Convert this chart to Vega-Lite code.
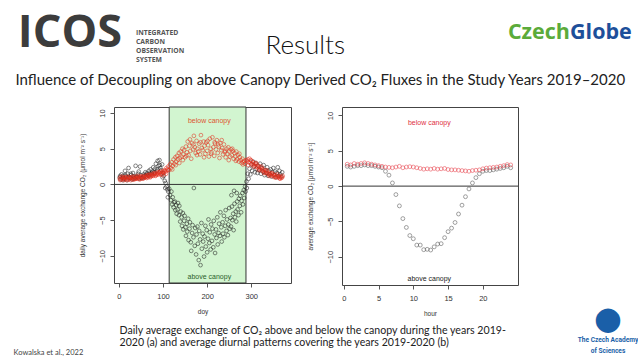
{
"$schema": "https://vega.github.io/schema/vega-lite/v6.json",
"background": "white",
"padding": {"left": 13, "top": 2, "right": 0, "bottom": 0},
"config": {
  "view": {"stroke": "#444", "strokeWidth": 1},
  "font": "Liberation Sans",
  "axis": {"grid": false, "domain": false, "ticks": true, "tickSize": 4, "tickColor": "#555", "labelColor": "#333", "labelFontSize": 7.5, "labelFont": "Liberation Sans", "titleFont": "Liberation Sans", "titleFontWeight": "normal", "titleColor": "#333", "titleFontSize": 6.5},
  "axisX": {"labelPadding": 5, "titlePadding": 9, "labelFlush": false},
  "axisY": {"labelAngle": -90, "labelAlign": "center", "labelBaseline": "bottom", "labelPadding": 4, "titlePadding": 13},
  "title": {"font": "Lato", "fontWeight": "normal", "color": "#222"}
},
"datasets": {
  "leftAbove": [
    {"d":2,"v":1.0},{"d":4,"v":0.7},{"d":6,"v":1.4},{"d":8,"v":0.9},{"d":10,"v":1.2},{"d":12,"v":0.8},{"d":14,"v":1.9},{"d":16,"v":1.1},{"d":18,"v":0.6},{"d":20,"v":1.5},{"d":22,"v":2.3},{"d":24,"v":1.0},{"d":26,"v":0.9},{"d":28,"v":1.3},{"d":30,"v":0.7},{"d":32,"v":1.6},{"d":34,"v":1.1},{"d":36,"v":0.9},{"d":38,"v":2.6},{"d":40,"v":1.2},{"d":42,"v":1.0},{"d":44,"v":1.5},{"d":46,"v":0.8},{"d":48,"v":2.5},{"d":50,"v":1.3},{"d":52,"v":1.0},{"d":54,"v":0.9},{"d":56,"v":1.4},{"d":58,"v":1.2},{"d":60,"v":1.7},{"d":62,"v":1.1},{"d":64,"v":1.6},{"d":66,"v":1.3},{"d":68,"v":1.9},{"d":70,"v":1.5},{"d":72,"v":2.1},{"d":74,"v":1.4},{"d":76,"v":1.8},{"d":78,"v":2.4},{"d":80,"v":1.7},{"d":82,"v":2.2},{"d":84,"v":2.9},{"d":86,"v":1.9},{"d":88,"v":3.3},{"d":90,"v":2.6},{"d":92,"v":3.4},{"d":94,"v":2.3},{"d":96,"v":2.0},{"d":98,"v":2.8},{"d":100,"v":1.6},{"d":102,"v":1.2},{"d":104,"v":0.5},{"d":106,"v":0.2},{"d":108,"v":-0.3},{"d":110,"v":-0.7},{"d":112,"v":-1.0},
    {"d":3,"v":1.2},{"d":9,"v":0.6},{"d":15,"v":1.3},{"d":21,"v":0.9},{"d":27,"v":1.5},{"d":33,"v":0.8},{"d":39,"v":1.0},{"d":45,"v":1.8},{"d":51,"v":0.9},{"d":57,"v":1.1},{"d":63,"v":1.4},{"d":69,"v":1.2},{"d":75,"v":1.6},{"d":81,"v":1.5},{"d":87,"v":2.1},{"d":93,"v":2.7},{"d":99,"v":1.0},{"d":105,"v":-0.5},{"d":111,"v":-1.8},
    {"d":114,"v":-0.6},{"d":116,"v":-1.5},{"d":118,"v":-2.2},{"d":119,"v":-1.0},{"d":121,"v":-2.8},{"d":122,"v":-1.8},{"d":124,"v":-3.2},{"d":125,"v":-2.5},{"d":127,"v":-2.4},{"d":128,"v":-3.6},{"d":130,"v":-2.9},{"d":131,"v":-4.1},{"d":133,"v":-3.5},{"d":134,"v":-2.6},{"d":136,"v":-4.3},{"d":137,"v":-3.0},{"d":139,"v":-5.2},{"d":140,"v":-3.8},{"d":142,"v":-4.6},{"d":143,"v":-5.8},{"d":145,"v":-4.0},{"d":146,"v":-6.3},{"d":148,"v":-5.1},{"d":149,"v":-4.4},{"d":151,"v":-6.0},{"d":152,"v":-7.2},{"d":154,"v":-5.5},{"d":155,"v":-6.6},{"d":157,"v":-4.8},{"d":158,"v":-7.8},{"d":160,"v":-6.2},{"d":161,"v":-5.3},{"d":163,"v":-8.1},{"d":164,"v":-9.3},{"d":166,"v":-6.8},{"d":167,"v":-5.7},{"d":169,"v":-7.4},{"d":170,"v":-0.5},{"d":172,"v":-8.6},{"d":173,"v":-6.1},{"d":175,"v":-9.8},{"d":176,"v":-7.0},{"d":178,"v":-5.9},{"d":179,"v":-8.3},{"d":181,"v":-10.6},{"d":182,"v":-6.5},{"d":184,"v":-7.7},{"d":185,"v":-11.3},{"d":187,"v":-5.4},{"d":188,"v":-9.0},{"d":190,"v":-6.9},{"d":191,"v":-8.0},{"d":193,"v":-10.1},{"d":194,"v":-7.3},{"d":196,"v":-5.8},{"d":197,"v":-8.7},{"d":199,"v":-6.4},{"d":200,"v":-9.5},{"d":202,"v":-7.6},{"d":203,"v":-4.9},{"d":205,"v":-8.2},{"d":206,"v":-6.7},{"d":208,"v":-9.1},{"d":209,"v":-5.6},{"d":211,"v":-7.9},{"d":212,"v":-6.2},{"d":214,"v":-8.8},{"d":215,"v":-5.1},{"d":217,"v":-7.0},{"d":218,"v":-9.6},{"d":220,"v":-6.3},{"d":221,"v":-7.5},{"d":223,"v":-4.6},{"d":224,"v":-8.4},{"d":226,"v":-6.8},{"d":227,"v":-5.5},{"d":229,"v":-7.2},{"d":230,"v":-3.9},{"d":232,"v":-6.0},{"d":233,"v":-8.0},{"d":235,"v":-5.3},{"d":236,"v":-6.9},{"d":238,"v":-4.4},{"d":239,"v":-7.4},{"d":241,"v":-5.8},{"d":242,"v":-3.6},{"d":244,"v":-6.5},{"d":245,"v":-4.9},{"d":247,"v":-7.1},{"d":248,"v":-5.6},{"d":250,"v":-3.3},{"d":251,"v":-6.2},{"d":253,"v":-4.7},{"d":254,"v":-5.9},{"d":255,"v":-1.5},{"d":256,"v":-3.1},{"d":257,"v":-5.0},{"d":259,"v":-4.1},{"d":260,"v":-6.4},{"d":261,"v":-0.9},{"d":262,"v":-2.7},{"d":263,"v":-4.6},{"d":265,"v":-3.8},{"d":266,"v":-5.2},{"d":267,"v":-1.2},{"d":268,"v":-2.4},{"d":269,"v":-3.5},{"d":271,"v":-4.3},{"d":272,"v":-2.0},{"d":274,"v":-3.0},{"d":275,"v":-1.6},{"d":277,"v":-3.9},{"d":278,"v":-2.3},{"d":280,"v":-1.2},{"d":281,"v":-2.8},{"d":283,"v":-0.8},{"d":284,"v":-1.9},{"d":286,"v":-0.3},{"d":287,"v":-1.0},{"d":289,"v":0.4},{"d":290,"v":-0.5},
    {"d":292,"v":1.5},{"d":294,"v":0.8},{"d":296,"v":2.2},{"d":298,"v":1.4},{"d":300,"v":2.8},{"d":302,"v":1.9},{"d":304,"v":3.2},{"d":306,"v":2.5},{"d":308,"v":1.7},{"d":310,"v":3.0},{"d":312,"v":2.2},{"d":314,"v":1.6},{"d":316,"v":2.6},{"d":318,"v":2.0},{"d":320,"v":2.9},{"d":322,"v":1.5},{"d":324,"v":2.3},{"d":326,"v":1.8},{"d":328,"v":2.7},{"d":330,"v":1.3},{"d":332,"v":2.0},{"d":334,"v":1.6},{"d":336,"v":2.4},{"d":338,"v":1.2},{"d":340,"v":1.9},{"d":342,"v":1.4},{"d":344,"v":2.1},{"d":346,"v":1.1},{"d":348,"v":1.7},{"d":350,"v":2.3},{"d":352,"v":1.3},{"d":354,"v":1.8},{"d":356,"v":1.0},{"d":358,"v":1.6},{"d":360,"v":2.4},{"d":362,"v":1.2},{"d":364,"v":1.9},{"d":366,"v":1.4},{"d":368,"v":1.1},{"d":370,"v":1.7}
  ],
  "leftBelow": [
    {"d":2,"v":0.8},{"d":4,"v":1.0},{"d":6,"v":0.7},{"d":8,"v":0.9},{"d":10,"v":0.8},{"d":12,"v":1.0},{"d":14,"v":0.7},{"d":16,"v":0.9},{"d":18,"v":0.8},{"d":20,"v":1.1},{"d":22,"v":0.7},{"d":24,"v":0.9},{"d":26,"v":0.8},{"d":28,"v":1.0},{"d":30,"v":0.9},{"d":32,"v":0.7},{"d":34,"v":1.0},{"d":36,"v":0.8},{"d":38,"v":1.1},{"d":40,"v":0.9},{"d":42,"v":0.8},{"d":44,"v":1.0},{"d":46,"v":0.9},{"d":48,"v":1.1},{"d":50,"v":0.8},{"d":52,"v":1.0},{"d":54,"v":1.1},{"d":56,"v":0.9},{"d":58,"v":1.2},{"d":60,"v":1.0},{"d":62,"v":1.1},{"d":64,"v":1.3},{"d":66,"v":1.0},{"d":68,"v":1.2},{"d":70,"v":1.4},{"d":72,"v":1.1},{"d":74,"v":1.3},{"d":76,"v":1.5},{"d":78,"v":1.2},{"d":80,"v":1.4},{"d":82,"v":1.6},{"d":84,"v":1.3},{"d":86,"v":1.5},{"d":88,"v":1.7},{"d":90,"v":1.4},{"d":92,"v":1.6},{"d":94,"v":1.8},{"d":96,"v":1.5},{"d":98,"v":1.7},{"d":100,"v":1.9},{"d":102,"v":1.6},{"d":104,"v":2.0},{"d":106,"v":1.8},{"d":108,"v":2.3},{"d":110,"v":2.1},{"d":112,"v":2.5},
    {"d":3,"v":0.6},{"d":7,"v":1.1},{"d":11,"v":0.6},{"d":15,"v":1.0},{"d":19,"v":0.6},{"d":23,"v":1.0},{"d":27,"v":0.6},{"d":31,"v":1.1},{"d":35,"v":0.7},{"d":39,"v":0.8},{"d":43,"v":1.2},{"d":47,"v":0.7},{"d":51,"v":1.1},{"d":55,"v":0.8},{"d":59,"v":1.0},{"d":63,"v":0.9},{"d":67,"v":1.3},{"d":71,"v":1.0},{"d":75,"v":1.2},{"d":79,"v":1.5},{"d":83,"v":1.2},{"d":87,"v":1.4},{"d":91,"v":1.7},{"d":95,"v":1.4},{"d":99,"v":1.3},{"d":103,"v":1.8},{"d":107,"v":1.5},{"d":111,"v":2.0},
    {"d":114,"v":2.0},{"d":116,"v":2.8},{"d":118,"v":2.3},{"d":120,"v":3.1},{"d":122,"v":2.6},{"d":124,"v":3.5},{"d":126,"v":2.9},{"d":128,"v":3.8},{"d":130,"v":3.2},{"d":132,"v":4.0},{"d":134,"v":3.5},{"d":136,"v":4.4},{"d":138,"v":3.7},{"d":140,"v":4.6},{"d":142,"v":3.9},{"d":144,"v":5.0},{"d":146,"v":4.2},{"d":148,"v":4.8},{"d":150,"v":3.8},{"d":152,"v":5.3},{"d":154,"v":4.5},{"d":156,"v":6.0},{"d":158,"v":4.1},{"d":160,"v":5.4},{"d":162,"v":4.7},{"d":164,"v":3.6},{"d":166,"v":5.8},{"d":168,"v":4.9},{"d":170,"v":6.8},{"d":172,"v":5.2},{"d":174,"v":4.4},{"d":176,"v":6.1},{"d":178,"v":5.0},{"d":180,"v":4.6},{"d":182,"v":5.7},{"d":184,"v":4.2},{"d":186,"v":6.9},{"d":188,"v":5.1},{"d":190,"v":4.8},{"d":192,"v":6.0},{"d":194,"v":5.4},{"d":196,"v":4.3},{"d":198,"v":5.9},{"d":200,"v":4.7},{"d":202,"v":5.5},{"d":204,"v":3.9},{"d":206,"v":6.4},{"d":208,"v":5.0},{"d":210,"v":4.5},{"d":212,"v":6.6},{"d":214,"v":5.2},{"d":216,"v":4.0},{"d":218,"v":5.7},{"d":220,"v":4.9},{"d":222,"v":6.2},{"d":224,"v":4.4},{"d":226,"v":5.3},{"d":228,"v":3.7},{"d":230,"v":5.8},{"d":232,"v":4.8},{"d":234,"v":5.1},{"d":236,"v":4.2},{"d":238,"v":5.6},{"d":240,"v":4.5},{"d":242,"v":3.8},{"d":244,"v":5.0},{"d":246,"v":4.3},{"d":248,"v":5.2},{"d":250,"v":4.6},{"d":252,"v":3.9},{"d":254,"v":4.9},{"d":256,"v":4.1},{"d":258,"v":4.7},{"d":260,"v":3.6},{"d":262,"v":4.4},{"d":264,"v":3.9},{"d":266,"v":4.6},{"d":268,"v":3.5},{"d":270,"v":4.1},{"d":272,"v":3.2},{"d":274,"v":3.8},{"d":276,"v":3.4},{"d":278,"v":3.0},{"d":280,"v":3.6},{"d":282,"v":3.1},{"d":284,"v":3.3},{"d":286,"v":2.9},{"d":288,"v":3.4},
    {"d":121,"v":2.1},{"d":129,"v":2.7},{"d":137,"v":3.0},{"d":145,"v":3.4},{"d":153,"v":4.0},{"d":161,"v":6.3},{"d":169,"v":5.6},{"d":177,"v":4.1},{"d":185,"v":5.9},{"d":193,"v":3.8},{"d":201,"v":6.1},{"d":209,"v":4.3},{"d":217,"v":5.9},{"d":225,"v":5.6},{"d":233,"v":6.2},{"d":241,"v":4.7},{"d":249,"v":3.4},{"d":257,"v":5.0},{"d":265,"v":3.3},{"d":273,"v":4.3},{"d":281,"v":2.8},
    {"d":290,"v":3.3},{"d":292,"v":3.5},{"d":294,"v":3.1},{"d":296,"v":3.6},{"d":298,"v":3.0},{"d":300,"v":3.3},{"d":302,"v":2.8},{"d":304,"v":3.1},{"d":306,"v":2.7},{"d":308,"v":2.9},{"d":310,"v":2.5},{"d":312,"v":2.8},{"d":314,"v":2.4},{"d":316,"v":2.6},{"d":318,"v":2.2},{"d":320,"v":2.4},{"d":322,"v":2.0},{"d":324,"v":2.2},{"d":326,"v":1.9},{"d":328,"v":2.1},{"d":330,"v":1.7},{"d":332,"v":1.9},{"d":334,"v":1.6},{"d":336,"v":1.8},{"d":338,"v":1.5},{"d":340,"v":1.4},{"d":342,"v":1.6},{"d":344,"v":1.3},{"d":346,"v":1.5},{"d":348,"v":1.2},{"d":350,"v":1.4},{"d":352,"v":1.1},{"d":354,"v":1.3},{"d":356,"v":1.0},{"d":358,"v":1.2},{"d":360,"v":1.0},{"d":362,"v":1.1},{"d":364,"v":0.9},{"d":366,"v":1.1},{"d":368,"v":0.9},{"d":370,"v":1.0},
    {"d":293,"v":2.7},{"d":299,"v":3.4},{"d":305,"v":2.5},{"d":311,"v":3.0},{"d":317,"v":2.0},{"d":323,"v":2.5},{"d":329,"v":1.6},{"d":335,"v":2.0},{"d":341,"v":1.2},{"d":347,"v":1.6},{"d":353,"v":1.0},{"d":359,"v":1.4},{"d":365,"v":0.8},{"d":371,"v":1.2}
  ],
  "rightAbove": [
    {"h":0.5,"v":2.8},{"h":1,"v":2.7},{"h":1.5,"v":2.8},{"h":2,"v":2.9},{"h":2.5,"v":2.9},{"h":3,"v":3.0},{"h":3.5,"v":2.9},{"h":4,"v":2.9},{"h":4.5,"v":2.8},{"h":5,"v":2.7},{"h":5.5,"v":2.6},{"h":6,"v":2.1},{"h":6.5,"v":1.55},{"h":7,"v":0.45},{"h":7.5,"v":-1.2},{"h":8,"v":-2.8},{"h":8.5,"v":-4.6},{"h":9,"v":-5.85},{"h":9.5,"v":-7.0},{"h":10,"v":-7.45},{"h":10.5,"v":-8.35},{"h":11,"v":-8.35},{"h":11.5,"v":-9.0},{"h":12,"v":-8.95},{"h":12.5,"v":-9.05},{"h":13,"v":-8.6},{"h":13.5,"v":-8.2},{"h":14,"v":-8.15},{"h":14.5,"v":-7.3},{"h":15,"v":-6.45},{"h":15.5,"v":-5.95},{"h":16,"v":-5.15},{"h":16.5,"v":-3.95},{"h":17,"v":-2.7},{"h":17.5,"v":-1.5},{"h":18,"v":-0.4},{"h":18.5,"v":0.45},{"h":19,"v":1.2},{"h":19.5,"v":1.75},{"h":20,"v":2.1},{"h":20.5,"v":2.2},{"h":21,"v":2.2},{"h":21.5,"v":2.3},{"h":22,"v":2.4},{"h":22.5,"v":2.5},{"h":23,"v":2.6},{"h":23.5,"v":2.8},{"h":24,"v":2.6}
  ],
  "rightBelow": [
    {"h":0.5,"v":3.1},{"h":1,"v":3.0},{"h":1.5,"v":3.2},{"h":2,"v":3.1},{"h":2.5,"v":3.2},{"h":3,"v":3.3},{"h":3.5,"v":3.2},{"h":4,"v":3.1},{"h":4.5,"v":3.0},{"h":5,"v":2.9},{"h":5.5,"v":2.8},{"h":6,"v":2.7},{"h":6.5,"v":2.65},{"h":7,"v":2.6},{"h":7.5,"v":2.7},{"h":8,"v":2.8},{"h":8.5,"v":2.6},{"h":9,"v":2.7},{"h":9.5,"v":2.75},{"h":10,"v":2.7},{"h":10.5,"v":2.6},{"h":11,"v":2.5},{"h":11.5,"v":2.4},{"h":12,"v":2.45},{"h":12.5,"v":2.4},{"h":13,"v":2.5},{"h":13.5,"v":2.4},{"h":14,"v":2.45},{"h":14.5,"v":2.5},{"h":15,"v":2.35},{"h":15.5,"v":2.3},{"h":16,"v":2.3},{"h":16.5,"v":2.25},{"h":17,"v":2.2},{"h":17.5,"v":2.15},{"h":18,"v":2.1},{"h":18.5,"v":2.2},{"h":19,"v":2.25},{"h":19.5,"v":2.3},{"h":20,"v":2.45},{"h":20.5,"v":2.55},{"h":21,"v":2.6},{"h":21.5,"v":2.65},{"h":22,"v":2.7},{"h":22.5,"v":2.8},{"h":23,"v":2.9},{"h":23.5,"v":3.05},{"h":24,"v":3.0}
  ]
},
"spacing": 9,
"vconcat": [
  {
    "spacing": 0,
    "hconcat": [
      {"width": 44, "height": 62, "view": {"stroke": null},
       "title": {"text": "ICOS", "orient": "left", "angle": 0, "align": "left", "baseline": "middle", "anchor": "middle", "frame": "group", "offset": -8, "font": "Open Sans", "fontWeight": "bold", "fontSize": 45, "color": "#3c3c3c"},
       "data": {"values": [{"t": "INTEGRATED\nCARBON\nOBSERVATION\nSYSTEM"}]}, "mark": {"type": "text", "font": "Open Sans", "fontWeight": "bold", "fontSize": 6.8, "color": "#555", "align": "left", "lineBreak": "\n", "lineHeight": 9}, "encoding": {"text": {"field": "t"}}},
      {"width": 320, "height": 62, "view": {"stroke": null}, "data": {"values": [{"t": "Results"}]}, "mark": {"type": "text", "font": "Lato", "fontWeight": 300, "fontSize": 26, "color": "#111", "align": "right", "baseline": "top"}, "encoding": {"text": {"field": "t"}}},
      {"width": 130, "height": 62, "view": {"stroke": null}, "data": {"values": [{"a": "Czech", "b": "Globe"}]}, "layer": [
        {"mark": {"type": "text", "font": "Open Sans", "fontWeight": "bold", "fontSize": 21.5, "color": "#5bab3a", "align": "right"}, "encoding": {"text": {"field": "a"}}},
        {"mark": {"type": "text", "font": "Open Sans", "fontWeight": "bold", "fontSize": 21.5, "color": "#1d4f9a", "align": "left"}, "encoding": {"text": {"field": "b"}}}
      ]}
    ]
  },
  {
    "title": {"text": "Influence of Decoupling on above Canopy Derived CO₂ Fluxes in the Study Years 2019–2020", "anchor": "start", "frame": "bounds", "dx": 2, "fontSize": 15, "offset": 18},
    "vconcat": [
      {
        "title": {"text": "Kowalska et al., 2022", "orient": "bottom", "anchor": "start", "frame": "bounds", "dx": -65, "offset": -6, "fontSize": 7.5, "color": "#444"},
        "vconcat": [
          {
            "title": {"text": ["Daily average exchange of CO₂ above and below the canopy during the years 2019-", "2020 (a) and average diurnal patterns covering the years 2019-2020 (b)"], "orient": "bottom", "anchor": "start", "frame": "bounds", "dx": 41, "offset": -29, "fontSize": 10.6, "lineHeight": 12},
            "spacing": 14,
            "hconcat": [
              {
                "width": 177, "height": 176,
                "view": {"stroke": "#444"},
                "layer": [
                  {"data": {"values": [{"a": 114, "b": 288}]}, "mark": {"type": "rect", "fill": "#d2f5d0", "stroke": "#333", "strokeWidth": 1},
                   "encoding": {"x": {"field": "a", "type": "quantitative", "scale": {"domain": [-11, 390], "nice": false, "zero": false}, "axis": {"values": [0, 100, 200, 300], "title": "doy"}}, "x2": {"field": "b"}}},
                  {"data": {"values": [{"z": 0}]}, "mark": {"type": "rule", "color": "#333", "strokeWidth": 1},
                   "encoding": {"y": {"field": "z", "type": "quantitative", "scale": {"domain": [-13.8, 10.84], "nice": false, "zero": false}, "axis": {"values": [-10, -5, 0, 5, 10], "title": "daily average exchange CO₂ (μmol m⁻² s⁻¹)"}}}},
                  {"data": {"name": "leftAbove"}, "mark": {"type": "point", "filled": false, "size": 14, "strokeWidth": 0.8, "color": "#222"},
                   "encoding": {
                     "x": {"field": "d", "type": "quantitative", "scale": {"domain": [-11, 390], "nice": false, "zero": false}, "axis": {"values": [0, 100, 200, 300], "title": "doy"}},
                     "y": {"field": "v", "type": "quantitative", "scale": {"domain": [-13.8, 10.84], "nice": false, "zero": false}, "axis": {"values": [-10, -5, 0, 5, 10], "title": "daily average exchange CO₂ (μmol m⁻² s⁻¹)"}}
                   }},
                  {"data": {"name": "leftBelow"}, "mark": {"type": "point", "filled": false, "size": 14, "strokeWidth": 0.8, "color": "#e3301e"},
                   "encoding": {
                     "x": {"field": "d", "type": "quantitative", "scale": {"domain": [-11, 390], "nice": false, "zero": false}, "axis": {"values": [0, 100, 200, 300], "title": "doy"}},
                     "y": {"field": "v", "type": "quantitative", "scale": {"domain": [-13.8, 10.84], "nice": false, "zero": false}, "axis": {"values": [-10, -5, 0, 5, 10], "title": "daily average exchange CO₂ (μmol m⁻² s⁻¹)"}}
                   }},
                  {"data": {"values": [{"d": 205, "v": 8.95, "t": "below canopy"}]}, "mark": {"type": "text", "fontSize": 7, "color": "#dd5530"},
                   "encoding": {"x": {"field": "d", "type": "quantitative", "scale": {"domain": [-11, 390], "nice": false, "zero": false}, "axis": {"values": [0, 100, 200, 300], "title": "doy"}}, "y": {"field": "v", "type": "quantitative", "scale": {"domain": [-13.8, 10.84], "nice": false, "zero": false}, "axis": {"values": [-10, -5, 0, 5, 10], "title": "daily average exchange CO₂ (μmol m⁻² s⁻¹)"}}, "text": {"field": "t"}}},
                  {"data": {"values": [{"d": 205, "v": -12.95, "t": "above canopy"}]}, "mark": {"type": "text", "fontSize": 7, "color": "#2b5e2b"},
                   "encoding": {"x": {"field": "d", "type": "quantitative", "scale": {"domain": [-11, 390], "nice": false, "zero": false}, "axis": {"values": [0, 100, 200, 300], "title": "doy"}}, "y": {"field": "v", "type": "quantitative", "scale": {"domain": [-13.8, 10.84], "nice": false, "zero": false}, "axis": {"values": [-10, -5, 0, 5, 10], "title": "daily average exchange CO₂ (μmol m⁻² s⁻¹)"}}, "text": {"field": "t"}}}
                ]
              },
              {
                "width": 176, "height": 178,
                "view": {"stroke": "#444"},
                "title": {"text": "●", "subtitle": ["The Czech Academy", "of Sciences"], "orient": "bottom", "anchor": "end", "frame": "group", "align": "center", "dx": 90, "offset": -13, "font": "DejaVu Sans", "fontSize": 32, "lineHeight": 32, "color": "#1a5fa8", "subtitleFont": "Roboto", "subtitleFontWeight": "bold", "subtitleFontSize": 6.6, "subtitleLineHeight": 11, "subtitleColor": "#1a5fa8", "subtitlePadding": 1},
                "layer": [
                  {"data": {"values": [{"z": 0}]}, "mark": {"type": "rule", "color": "#333", "strokeWidth": 1},
                   "encoding": {"y": {"field": "z", "type": "quantitative", "scale": {"domain": [-14, 11.2], "nice": false, "zero": false}, "axis": {"values": [-10, -5, 0, 5, 10], "title": "average exchange CO₂ [μmol m⁻² s⁻¹]"}}}},
                  {"data": {"name": "rightAbove"}, "mark": {"type": "point", "filled": false, "size": 15, "strokeWidth": 0.8, "color": "#555"},
                   "encoding": {
                     "x": {"field": "h", "type": "quantitative", "scale": {"domain": [-0.25, 25.05], "nice": false, "zero": false}, "axis": {"values": [0, 5, 10, 15, 20], "title": "hour"}},
                     "y": {"field": "v", "type": "quantitative", "scale": {"domain": [-14, 11.2], "nice": false, "zero": false}, "axis": {"values": [-10, -5, 0, 5, 10], "title": "average exchange CO₂ [μmol m⁻² s⁻¹]"}}
                   }},
                  {"data": {"name": "rightBelow"}, "mark": {"type": "point", "filled": false, "size": 15, "strokeWidth": 0.8, "color": "#e8404a"},
                   "encoding": {
                     "x": {"field": "h", "type": "quantitative", "scale": {"domain": [-0.25, 25.05], "nice": false, "zero": false}, "axis": {"values": [0, 5, 10, 15, 20], "title": "hour"}},
                     "y": {"field": "v", "type": "quantitative", "scale": {"domain": [-14, 11.2], "nice": false, "zero": false}, "axis": {"values": [-10, -5, 0, 5, 10], "title": "average exchange CO₂ [μmol m⁻² s⁻¹]"}}
                   }},
                  {"data": {"values": [{"h": 12.3, "v": 9.0, "t": "below canopy"}]}, "mark": {"type": "text", "fontSize": 7, "color": "#e0303f"},
                   "encoding": {"x": {"field": "h", "type": "quantitative", "scale": {"domain": [-0.25, 25.05], "nice": false, "zero": false}, "axis": {"values": [0, 5, 10, 15, 20], "title": "hour"}}, "y": {"field": "v", "type": "quantitative", "scale": {"domain": [-14, 11.2], "nice": false, "zero": false}, "axis": {"values": [-10, -5, 0, 5, 10], "title": "average exchange CO₂ [μmol m⁻² s⁻¹]"}}, "text": {"field": "t"}}},
                  {"data": {"values": [{"h": 12.3, "v": -13.1, "t": "above canopy"}]}, "mark": {"type": "text", "fontSize": 7, "color": "#222"},
                   "encoding": {"x": {"field": "h", "type": "quantitative", "scale": {"domain": [-0.25, 25.05], "nice": false, "zero": false}, "axis": {"values": [0, 5, 10, 15, 20], "title": "hour"}}, "y": {"field": "v", "type": "quantitative", "scale": {"domain": [-14, 11.2], "nice": false, "zero": false}, "axis": {"values": [-10, -5, 0, 5, 10], "title": "average exchange CO₂ [μmol m⁻² s⁻¹]"}}, "text": {"field": "t"}}}
                ]
              }
            ]
          }
        ]
      }
    ]
  }
]
}
